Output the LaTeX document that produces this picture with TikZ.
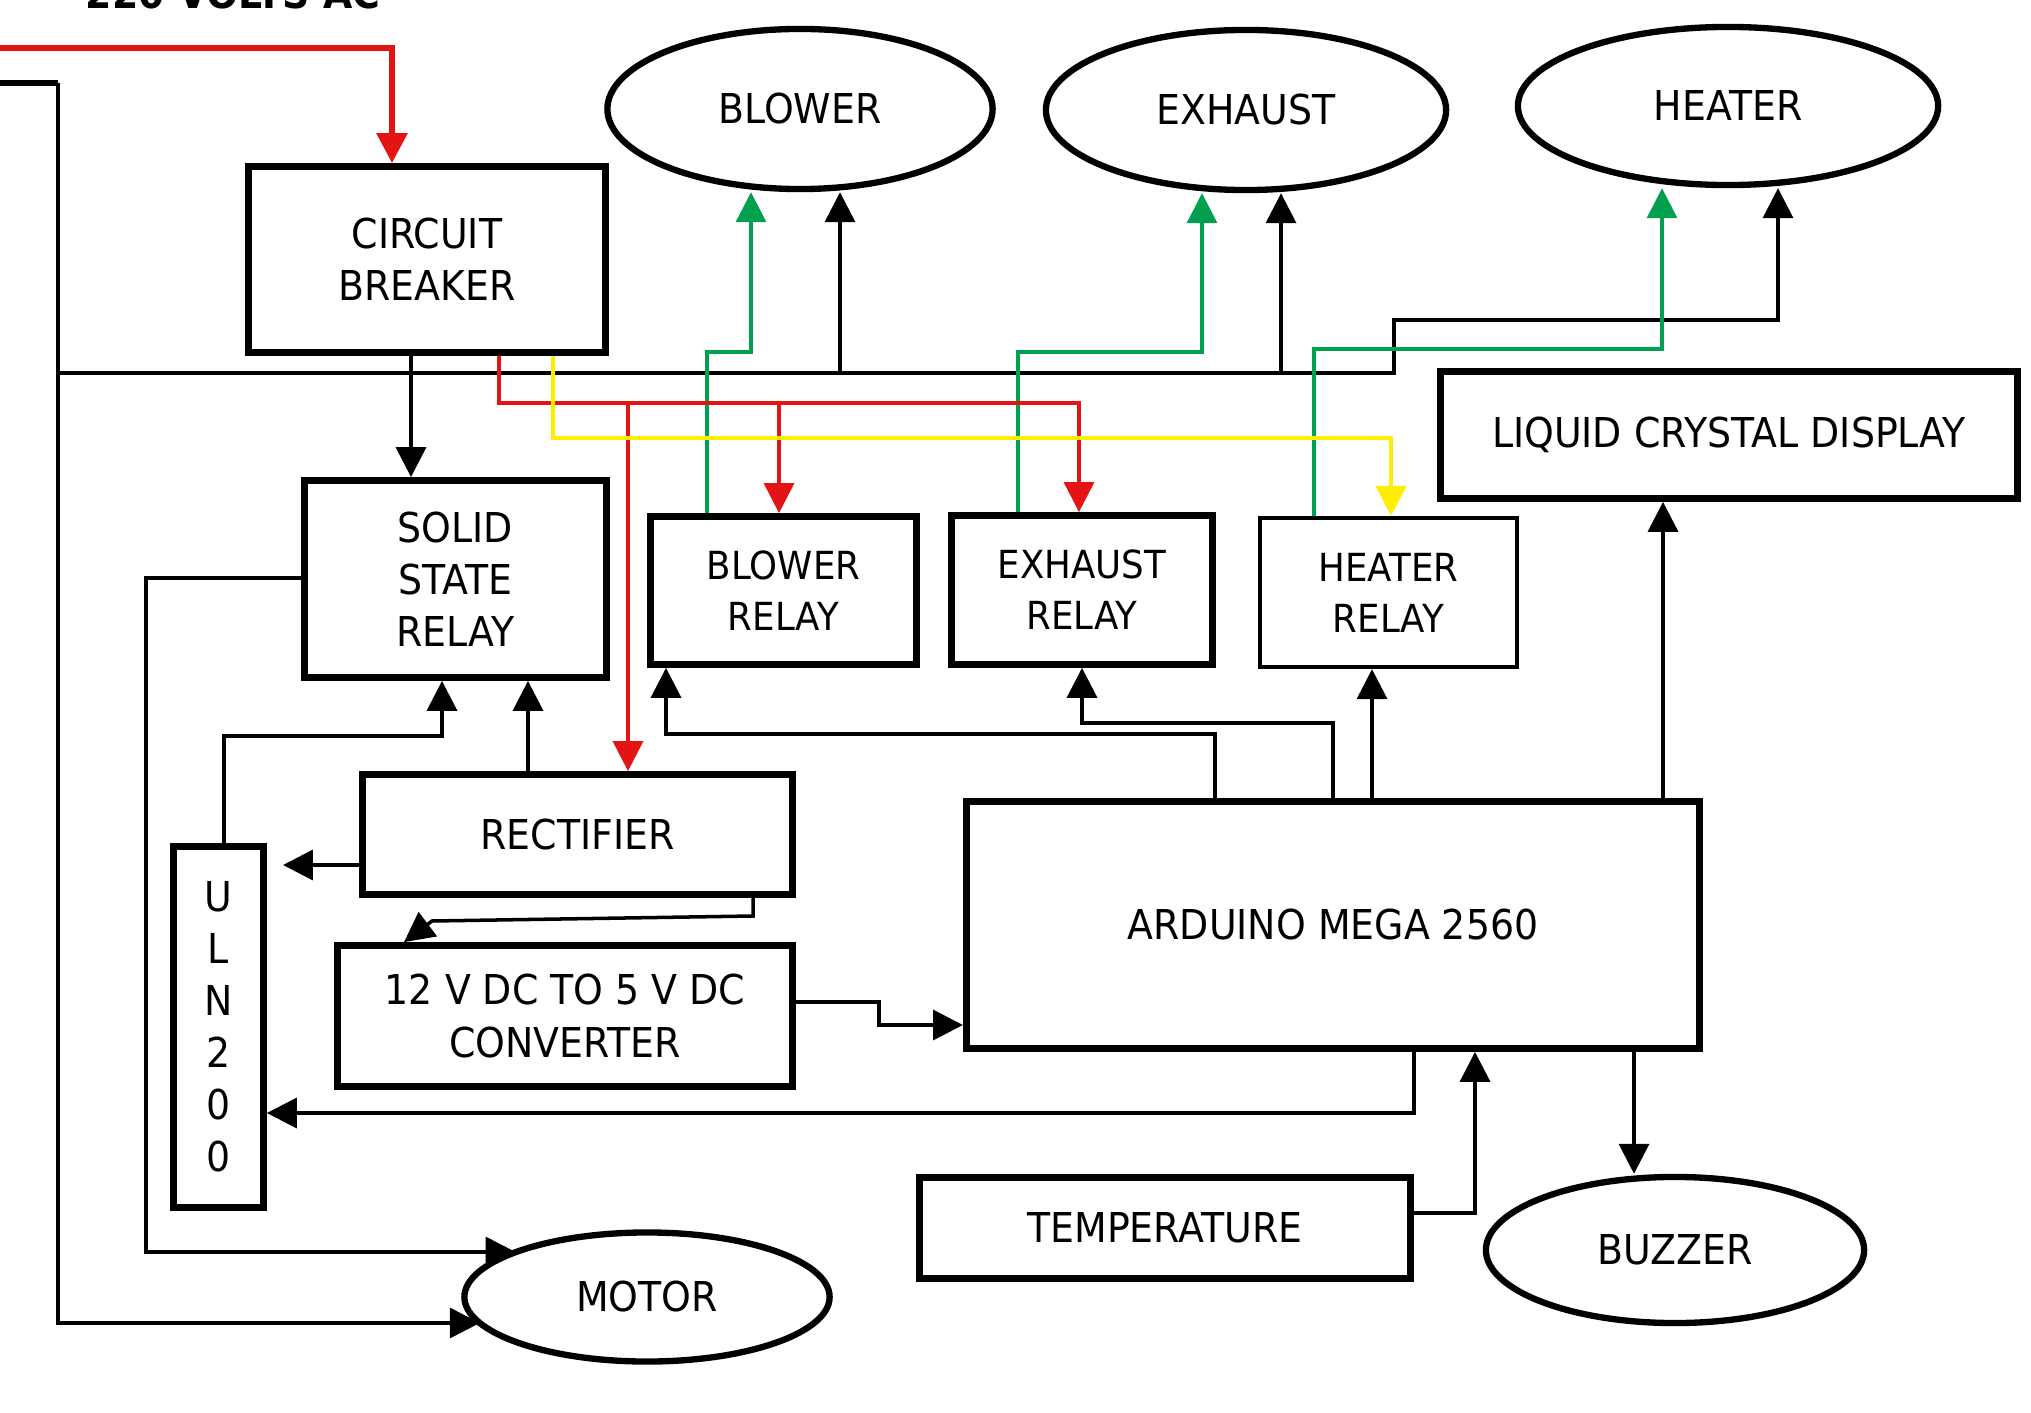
\documentclass[tikz,border=0pt]{standalone}
\usepackage{fontspec}
\newfontfamily\lab[FakeStretch=0.92]{DejaVu Sans}
\usetikzlibrary{arrows.meta,shapes.geometric}
\definecolor{wred}{RGB}{228,20,20}
\definecolor{wgreen}{RGB}{0,160,80}
\definecolor{wyellow}{RGB}{255,238,0}
\begin{document}
\begin{tikzpicture}[x=0.01cm,y=-0.01cm,
  txt/.style={font=\lab\fontsize{11.7}{14.8}\selectfont},
  box/.style={draw, rectangle, line width=1.9pt, inner sep=0pt, align=center, txt},
  oval/.style={draw, ellipse, line width=1.8pt, inner sep=0pt, align=center, txt},
  wire/.style={line width=1pt, draw=black},
  rwire/.style={line width=0.9pt, draw=wred},
  gwire/.style={line width=0.9pt, draw=wgreen},
  ywire/.style={line width=1.1pt, draw=wyellow},
  arr/.style={-{Triangle[length=8.5pt,width=8.5pt]}},
]
\useasboundingbox (0,0) rectangle (2031,1413);
\clip (0,0) rectangle (2031,1413);
\fill[white] (0,0) rectangle (2031,1413);

% ---------- nodes ----------
\node[inner sep=0pt, anchor=base, font=\lab\bfseries\fontsize{11.7}{14}\selectfont] (ac) at (233,9) {220 VOLTS AC};

\node[box, minimum width=3.57cm, minimum height=1.86cm] (cb) at (427,259.5) {CIRCUIT\\BREAKER};
\node[box, minimum width=3.02cm, minimum height=1.97cm] (ssr) at (455.5,579) {SOLID\\STATE\\RELAY};
\node[box, minimum width=2.66cm, minimum height=1.48cm, font=\lab\fontsize{11}{14.5}\selectfont] (brelay) at (783.5,590.5) {BLOWER\\RELAY};
\node[box, minimum width=2.61cm, minimum height=1.49cm, font=\lab\fontsize{11}{14.5}\selectfont] (erelay) at (1082,590) {EXHAUST\\RELAY};
\node[box, line width=1.2pt, minimum width=2.57cm, minimum height=1.49cm, font=\lab\fontsize{11}{14.5}\selectfont] (hrelay) at (1388.5,592.5) {HEATER\\RELAY};
\node[box, minimum width=5.77cm, minimum height=1.27cm] (lcd) at (1729,435) {LIQUID CRYSTAL DISPLAY};
\node[box, minimum width=4.30cm, minimum height=1.20cm] (rect) at (577.5,834.5) {RECTIFIER};
\node[box, minimum width=4.55cm, minimum height=1.41cm] (conv) at (565,1016) {12 V DC TO 5 V DC\\CONVERTER};
\node[box, minimum width=0.90cm, minimum height=3.61cm] (uln) at (218.5,1027) {U\\L\\N\\2\\0\\0};
\node[box, minimum width=7.33cm, minimum height=2.47cm] (ard) at (1333,925) {ARDUINO MEGA 2560};
\node[box, minimum width=4.91cm, minimum height=1.01cm] (temp) at (1165,1228) {TEMPERATURE};

\node[oval, minimum width=3.85cm, minimum height=1.60cm] (blower) at (800,109) {BLOWER};
\node[oval, minimum width=4.00cm, minimum height=1.60cm] (exhaust) at (1246,110) {EXHAUST};
\node[oval, minimum width=4.20cm, minimum height=1.58cm] (heater) at (1728,106) {HEATER};
\node[oval, minimum width=3.78cm, minimum height=1.46cm] (buzzer) at (1675,1250) {BUZZER};
\node[oval, minimum width=3.65cm, minimum height=1.29cm] (motor) at (647,1297) {MOTOR};

% ---------- helper coordinates ----------
\coordinate (acL) at (0,48);
\coordinate (acC) at (392,48);
\coordinate (nL) at (0,83);
\coordinate (nC) at (58,83);
\coordinate (nB) at (58,1323);
\coordinate (bus0) at (58,373);
\coordinate (bus1) at (1394,373);
\coordinate (bus2) at (1394,320);
\coordinate (bus3) at (1778,320);
\coordinate (bb) at (840,373);
\coordinate (be) at (1281,373);
\coordinate (g1a) at (707,352);
\coordinate (g1b) at (751,352);
\coordinate (g2a) at (1018,352);
\coordinate (g2b) at (1202,352);
\coordinate (g3a) at (1314,349);
\coordinate (g3b) at (1662,349);
\coordinate (r0) at (499,403);
\coordinate (r1) at (1079,403);
\coordinate (r2) at (779,403);
\coordinate (r3) at (628,403);
\coordinate (y0) at (553,438);
\coordinate (y1) at (1391,438);
\coordinate (c1) at (411,0);
\coordinate (s1) at (146,578);
\coordinate (s2) at (146,1252);
\coordinate (u1) at (224,736);
\coordinate (u2) at (442,736);
\coordinate (c2) at (528,0);
\coordinate (u3) at (283,865);
\coordinate (k1) at (753,916);
\coordinate (k2) at (432,921);
\coordinate (k3) at (404,0);
\coordinate (v1) at (879,1002);
\coordinate (v2) at (879,1025);
\coordinate (a1) at (1414,1113);
\coordinate (t1) at (1475,1213);
\coordinate (z1) at (1634,0);
\coordinate (l1) at (1663,0);
\coordinate (h1) at (1372,0);
\coordinate (e1) at (1333,723);
\coordinate (e2) at (1082,723);
\coordinate (b1) at (1215,734);
\coordinate (b2) at (666,734);

% ---------- connectors ----------
% mains live
\draw[line width=1.7pt, draw=wred, arr] (acL) -- (acC) -- (acC |- cb.north);
% mains neutral
\draw[wire, line width=1.8pt] (nL) -- (nC);
\draw[wire, arr] (nC) -- (nB) -- (motor.190 |- nB);
% neutral bus to loads
\draw[wire, arr] (bus0) -- (bus1) -- (bus2) -- (bus3) -- (bus3 |- heater.south);
\draw[wire, arr] (bb) -- (bb |- blower.south);
\draw[wire, arr] (be) -- (be |- exhaust.south);

% relay outputs (green)
\draw[gwire, arr] (g1a |- brelay.north) -- (g1a) -- (g1b) -- (g1b |- blower.south);
\draw[gwire, arr] (g2a |- erelay.north) -- (g2a) -- (g2b) -- (g2b |- exhaust.south);
\draw[gwire, arr] (g3a |- hrelay.north) -- (g3a) -- (g3b) -- (g3b |- heater.south);

% breaker outputs (red, yellow)
\draw[rwire, arr] (r0 |- cb.south) -- (r0) -- (r1) -- (r1 |- erelay.north);
\draw[rwire, arr] (r2) -- (r2 |- brelay.north);
\draw[rwire, arr] (r3) -- (r3 |- rect.north);
\draw[ywire, arr] (y0 |- cb.south) -- (y0) -- (y1) -- (y1 |- hrelay.north);

% breaker -> SSR
\draw[wire, arr] (c1 |- cb.south) -- (c1 |- ssr.north);
% SSR -> motor
\draw[wire, arr] (ssr.west |- s1) -- (s1) -- (s2) -- (motor.160 |- s2);
% ULN -> SSR
\draw[wire, arr] (u1 |- uln.north) -- (u1) -- (u2) -- (u2 |- ssr.south);
% rectifier -> SSR
\draw[wire, arr] (c2 |- rect.north) -- (c2 |- ssr.south);
% rectifier -> ULN
\draw[wire, arr] (rect.west |- u3) -- (u3);
% rectifier -> converter
\draw[wire, arr] (k1 |- rect.south) -- (k1) -- (k2) -- (k3 |- conv.north);
% converter -> arduino
\draw[wire, arr] (conv.east |- v1) -- (v1) -- (v2) -- (ard.west |- v2);
% arduino -> ULN
\draw[wire, arr] (a1 |- ard.south) -- (a1) -- (uln.east |- a1);
% temperature -> arduino
\draw[wire, arr] (temp.east |- t1) -- (t1) -- (t1 |- ard.south);
% arduino -> buzzer
\draw[wire, arr] (z1 |- ard.south) -- (z1 |- buzzer.north);
% arduino -> LCD
\draw[wire, arr] (l1 |- ard.north) -- (l1 |- lcd.south);
% arduino -> relays
\draw[wire, arr] (h1 |- ard.north) -- (h1 |- hrelay.south);
\draw[wire, arr] (e1 |- ard.north) -- (e1) -- (e2) -- (e2 |- erelay.south);
\draw[wire, arr] (b1 |- ard.north) -- (b1) -- (b2) -- (b2 |- brelay.south);
\end{tikzpicture}
\end{document}
